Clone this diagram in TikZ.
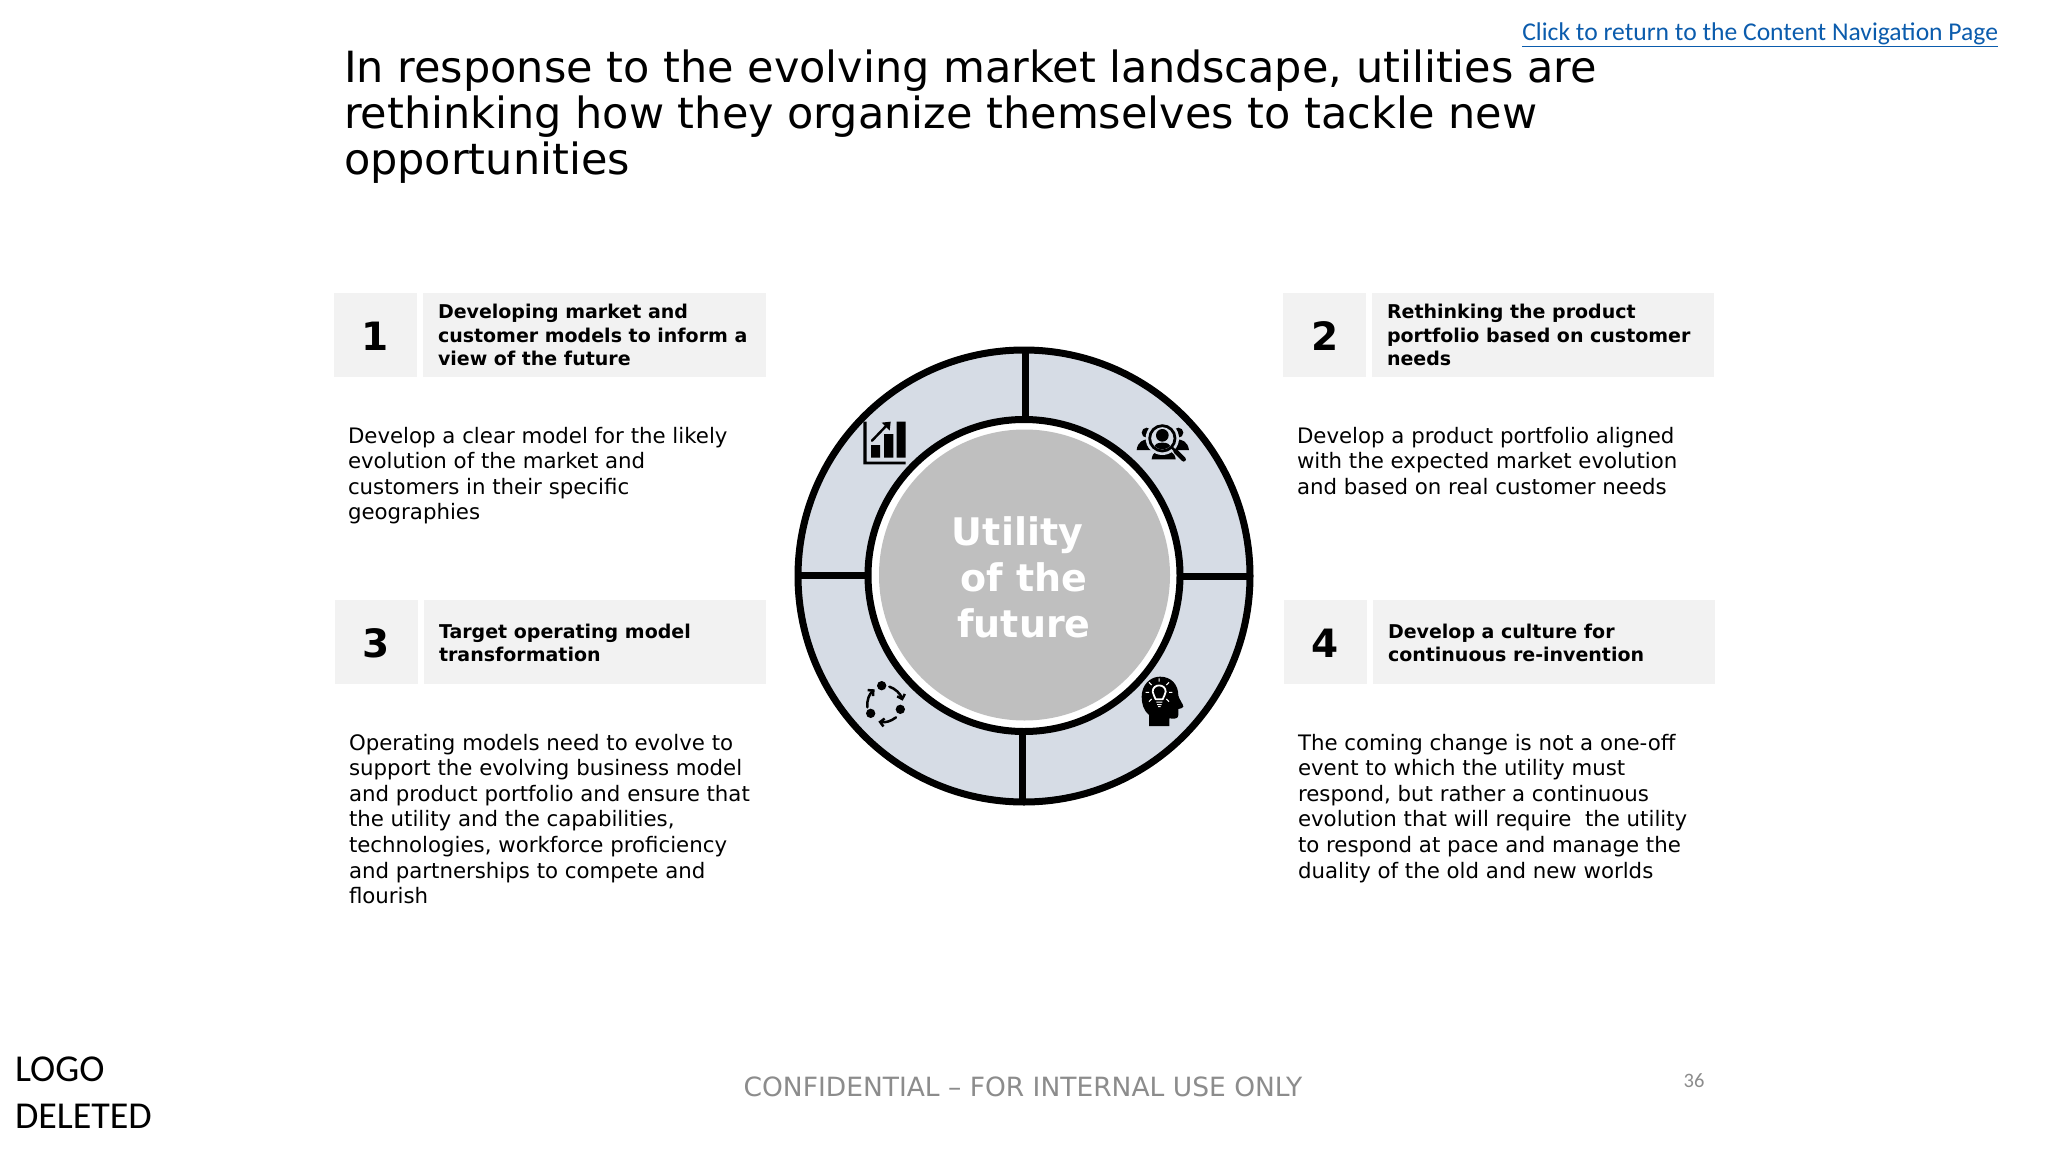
\documentclass[tikz,border=0pt]{standalone}
\usepackage{fontspec}
\setmainfont{DejaVu Sans}
\newfontfamily\carl{Carlito}
\usetikzlibrary{arrows.meta}
\definecolor{ringc}{HTML}{D6DCE5}
\definecolor{hubc}{HTML}{BFBFBF}
\definecolor{boxc}{HTML}{F2F2F2}
\definecolor{linkc}{HTML}{0B5CAD}
\definecolor{footc}{HTML}{8C8C8C}
\tikzset{
 every node/.style={inner sep=0pt,outer sep=0pt},
 boxfill/.style={fill=boxc,draw=none},
 numtext/.style={font=\bfseries\fontsize{39}{39}\selectfont,anchor=center},
 headtext/.style={font=\bfseries\fontsize{19}{23.2}\selectfont,align=left,anchor=west},
 bodytext/.style={font=\fontsize{21.3}{25.6}\selectfont,align=left,anchor=north west},
 ringline/.style={draw=black,line width=7pt},
 icon/.style={fill=black,draw=none},
 iconline/.style={draw=black,line cap=round},
}
\begin{document}
\begin{tikzpicture}[x=1pt,y=-1pt]
\useasboundingbox (0,0) rectangle (2048,1151);
\fill[white] (0,0) rectangle (2048,1151);
% title and link
\node[anchor=north west,align=left,font=\fontsize{43}{46}\selectfont] (title) at (344,49.5) {In response to the evolving market landscape, utilities are\\rethinking how they organize themselves to tackle new\\opportunities};
\node[anchor=east,font=\carl\fontsize{25.6}{25.6}\selectfont,text=linkc] (link) at (1998,35) {\underline{Click to return to the Content Navigation Page}};
% boxes
\node[boxfill,minimum width=83pt,minimum height=84pt] (n1) at (375.5,335) {};
\node[boxfill,minimum width=343pt,minimum height=84pt] (l1) at (594.5,335) {};
\node[boxfill,minimum width=83pt,minimum height=84pt] (n2) at (1324.5,335) {};
\node[boxfill,minimum width=342pt,minimum height=84pt] (l2) at (1543,335) {};
\node[boxfill,minimum width=83pt,minimum height=84pt] (n3) at (376.5,642) {};
\node[boxfill,minimum width=342pt,minimum height=84pt] (l3) at (595,642) {};
\node[boxfill,minimum width=83pt,minimum height=84pt] (n4) at (1325.5,642) {};
\node[boxfill,minimum width=342pt,minimum height=84pt] (l4) at (1544,642) {};
\node[numtext] (t1) at (375.5,336) {1};
\node[numtext] (t2) at (1325,336) {2};
\node[numtext] (t3) at (376.5,643) {3};
\node[numtext] (t4) at (1325.5,643) {4};
\node[headtext] (h1) at (438,335) {Developing market and\\customer models to inform a\\view of the future};
\node[headtext] (h2) at (1387,335) {Rethinking the product\\portfolio based on customer\\needs};
\node[headtext] (h3) at (439,643) {Target operating model\\transformation};
\node[headtext] (h4) at (1388,643) {Develop a culture for\\continuous re-invention};
\node[bodytext] (b1) at (348,427) {Develop a clear model for the likely\\evolution of the market and\\customers in their specific\\geographies};
\node[bodytext] (b2) at (1297,427) {Develop a product portfolio aligned\\with the expected market evolution\\and based on real customer needs};
\node[bodytext] (b3) at (349,734) {Operating models need to evolve to\\support the evolving business model\\and product portfolio and ensure that\\the utility and the capabilities,\\technologies, workforce proficiency\\and partnerships to compete and\\flourish};
\node[bodytext] (b4) at (1298,734) {The coming change is not a one-off\\event to which the utility must\\respond, but rather a continuous\\evolution that will require\ \ the utility\\to respond at pace and manage the\\duality of the old and new worlds};
% wheel
\draw[ringline,fill=ringc] (1024,576) circle (226);
\draw[ringline,fill=white] (1024,575.5) circle (156);
\fill[hubc] (1024.5,575) circle (145.5);
\draw[ringline] (1025,350) -- (1025,418);
\draw[ringline] (1182,576) -- (1250,576);
\draw[ringline] (1022,733) -- (1022,802);
\draw[ringline] (798,575) -- (866,575);
\node[align=center,text=white,font=\bfseries\fontsize{38}{46}\selectfont] (hub) at (1024,577) {\mbox{Utility\kern 13pt}\\of the\\future};
% chart icon
\begin{scope}[shift={(850,410)},scale=1/3]
\fill[icon] (40,35) rectangle (50,163) (40,155) rectangle (167,163);
\fill[icon] (63,105) rectangle (90,143) (102,72) rectangle (130,143) (140,35) rectangle (167,143);
\draw[iconline,line width=2.4pt] (66,92) -- (114,42);
\fill[icon] (122,35) -- (95,38) -- (119,62) -- cycle;
\end{scope}
% people icon
\begin{scope}[shift={(1125,410)},scale=1/3]
\fill[icon] (65,68) circle (15);
\fill[icon] (160,68) circle (15);
\fill[icon] (35,120) .. controls (38,95) and (55,88) .. (70,88) -- (90,120) -- cycle;
\fill[icon] (192,120) .. controls (188,95) and (172,88) .. (155,88) -- (135,120) -- cycle;
\fill[icon] (80,148) .. controls (82,125) and (100,120) .. (113,120) .. controls (130,120) and (150,125) .. (152,148) -- cycle;
\fill[ringc] (112,85) circle (50);
\draw[black,line width=2.8pt,fill=ringc] (112,85) circle (38);
\begin{scope}
\clip (112,85) circle (33);
\fill[icon] (112,76) circle (19);
\fill[icon] (85,118) .. controls (88,100) and (100,98) .. (112,98) .. controls (125,98) and (136,100) .. (139,118) -- cycle;
\end{scope}
\draw[iconline,line width=2.5pt] (140,112) -- (150,122);
\draw[iconline,line width=4.5pt] (152,124) -- (176,148);
\end{scope}
% cycle icon
\begin{scope}[shift={(850,670)},scale=1/3]
\fill[icon] (95,47) circle (14);
\fill[icon] (151,118) circle (14);
\fill[icon] (62,130) circle (14);
\begin{scope}[every path/.style={iconline,line width=2.5pt,-{Straight Barb[length=4pt,width=8pt]}}]
\draw (118,50) .. controls (135,55) and (152,72) .. (158,92);
\draw (138,142) .. controls (122,155) and (105,158) .. (85,155);
\draw (52,112) .. controls (50,90) and (58,72) .. (74,58);
\end{scope}
\end{scope}
% head icon
\begin{scope}[shift={(1125,665)},scale=1/3]
\fill[icon] (72,183) -- (72,150) .. controls (55,135) and (50,115) .. (50,95) .. controls (50,60) and (75,35) .. (105,35) .. controls (140,35) and (160,60) .. (160,92) .. controls (162,102) and (175,118) .. (175,125) .. controls (175,130) and (165,130) .. (160,132) -- (160,150) .. controls (160,162) and (148,162) .. (133,160) -- (133,183) -- cycle;
\draw[white,line width=1.8pt,line join=round] (92,103) .. controls (90,92) and (83,90) .. (83,80) .. controls (83,55) and (122,55) .. (122,80) .. controls (122,90) and (115,92) .. (113,103) -- cycle;
\fill[white] (94,110) rectangle (112,113) (96,117) rectangle (110,120) (99,123) rectangle (107,126);
\draw[white,line width=1pt] (102,40) -- (102,50) (72,52) -- (80,60) (132,52) -- (124,60) (62,82) -- (72,82) (132,82) -- (142,82) (72,110) -- (80,102) (132,110) -- (124,102);
\end{scope}
% footer
\node[font=\fontsize{26.5}{26.5}\selectfont,text=footc] (conf) at (1023,1087) {CONFIDENTIAL – FOR INTERNAL USE ONLY};
\node[font=\carl\fontsize{20.5}{20.5}\selectfont,text=footc] (page) at (1694,1081) {36};
\node[anchor=north west,align=left,font=\carl\fontsize{38}{47}\selectfont] (logo) at (15,1057) {LOGO\\DELETED};
\end{tikzpicture}
\end{document}
